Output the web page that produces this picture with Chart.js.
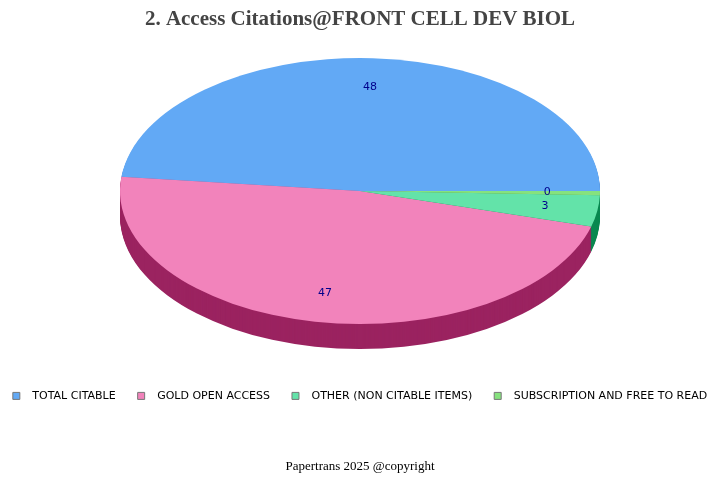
<!DOCTYPE html>
<html>
<head>
<meta charset="utf-8">
<script src="https://cdn.jsdelivr.net/npm/chart.js@4/dist/chart.umd.min.js"></script>
<style>
  html, body { margin: 0; padding: 0; background: #ffffff; }
  #wrap { width: 720px; height: 480px; }
</style>
</head>
<body>
<div id="wrap"><canvas id="c" width="720" height="480"></canvas></div>
<script>
const titleText = '2. Access Citations@FRONT CELL DEV BIOL';
const footerText = 'Papertrans 2025 @copyright';
const categories = ['TOTAL CITABLE', 'GOLD OPEN ACCESS', 'OTHER (NON CITABLE ITEMS)', 'SUBSCRIPTION AND FREE TO READ'];
// slice shares
const values = [48.3, 47.4, 3.8, 0.5];
// value labels as printed on the chart
const valueLabels = ['48', '47', '3', '0'];
const topColors = ['#62a9f5', '#f283bb', '#63e3a9', '#86e27e'];
const sideColors = ['#3b74b8', '#9b2360', '#0a8850', '#4c9a46'];

// Geometry of the drawn 3D ellipse (screen)
const CX = 360, CY = 191, RX = 240, RY = 133, DEPTH = 25;

function frame(chart) {
  const a = chart.getDatasetMeta(0).data[0];
  return { x0: a.x, y0: a.y, R: a.outerRadius };
}
function applyT(ctx, f, d) {
  ctx.translate(CX, CY + d);
  ctx.scale(RX / f.R, -RY / f.R);
  ctx.translate(-f.x0, -f.y0);
}

const pie3d = {
  id: 'pie3d',
  beforeDatasetsDraw(chart) {
    const ctx = chart.ctx;
    const f = frame(chart);
    const arcs = chart.getDatasetMeta(0).data;
    for (let d = DEPTH; d >= 1; d--) {
      ctx.save();
      applyT(ctx, f, d);
      arcs.forEach((arc, i) => {
        const proxy = Object.create(arc);
        proxy.options = Object.assign({}, arc.options, { backgroundColor: sideColors[i], borderWidth: 0 });
        proxy.draw(ctx);
      });
      ctx.restore();
    }
    ctx.save();
    applyT(ctx, f, 0);
  },
  afterDatasetsDraw(chart) {
    const ctx = chart.ctx;
    ctx.restore();
    const f = frame(chart);
    const arcs = chart.getDatasetMeta(0).data;
    ctx.save();
    ctx.font = '11px "DejaVu Sans", sans-serif';
    ctx.fillStyle = '#00008b';
    ctx.textAlign = 'center';
    ctx.textBaseline = 'middle';
    arcs.forEach((arc, i) => {
      const mid = (arc.startAngle + arc.endAngle) / 2;
      const r = f.R * 0.78;
      const px = f.x0 + r * Math.cos(mid);
      const py = f.y0 + r * Math.sin(mid);
      const sx = CX + (px - f.x0) * RX / f.R;
      const sy = CY - (py - f.y0) * RY / f.R;
      ctx.fillText(valueLabels[i], sx, sy);
    });
    ctx.restore();
  }
};

new Chart(document.getElementById('c'), {
  type: 'pie',
  data: {
    labels: categories,
    datasets: [{
      data: values,
      backgroundColor: topColors,
      borderWidth: 0,
      clip: false
    }]
  },
  options: {
    responsive: false,
    animation: false,
    rotation: 90,
    layout: { padding: 0 },
    plugins: {
      tooltip: { enabled: false },
      title: {
        display: true,
        text: titleText,
        color: '#444444',
        font: { family: '"Liberation Serif", "Times New Roman", serif', size: 21, weight: 'bold' },
        padding: { top: 7, bottom: 10 }
      },
      subtitle: {
        display: true,
        position: 'bottom',
        text: footerText,
        color: '#000000',
        font: { family: '"Liberation Serif", "Times New Roman", serif', size: 13, weight: 'normal' },
        padding: { top: 47, bottom: 6 }
      },
      legend: {
        position: 'bottom',
        labels: {
          boxWidth: 7,
          boxHeight: 7,
          padding: 8,
          color: '#000000',
          font: { family: '"DejaVu Sans", sans-serif', size: 11 },
          generateLabels(chart) {
            return categories.map((c, i) => ({
              text: '  ' + c + (i < categories.length - 1 ? '    ' : ''),
              fillStyle: topColors[i],
              strokeStyle: '#777777',
              lineWidth: 1,
              hidden: false,
              index: i,
              datasetIndex: 0
            }));
          }
        }
      }
    }
  },
  plugins: [pie3d]
});
</script>
</body>
</html>
